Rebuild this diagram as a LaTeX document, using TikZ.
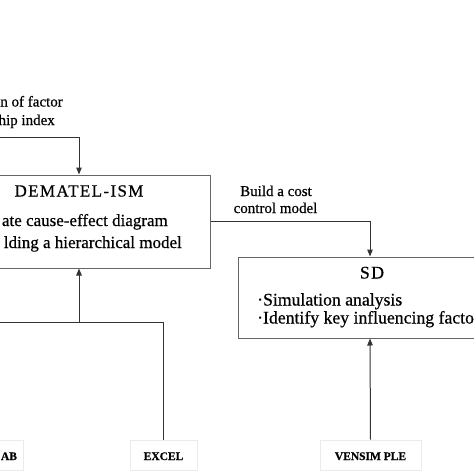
\documentclass[tikz,border=0pt]{standalone}
\usepackage{fontspec}
\setmainfont{Liberation Serif}[FakeBold=0.5]
\usetikzlibrary{arrows.meta}
\begin{document}
\begin{tikzpicture}[x=1pt,y=-1pt,
  wire/.style={draw=black!80,line width=1pt},
  arr/.style={wire,-{Triangle[length=7pt,width=5.5pt]}},
  bigbox/.style={draw=black!60,line width=1pt,fill=white,inner sep=0},
  toolbox/.style={draw=black!8,line width=0.8pt,minimum width=67pt,minimum height=30pt,inner sep=0},
  txt/.style={inner sep=0,font=\fontsize{17}{20}\selectfont},
  sdtxt/.style={inner sep=0,font=\fontsize{17.7}{20}\selectfont},
  lbl/.style={inner sep=0,font=\fontsize{15}{18}\selectfont},
  tool/.style={inner sep=0,font=\fontsize{11.5}{13}\selectfont\bfseries}]
\clip (0,0) rectangle (474,474);
\fill[white] (0,0) rectangle (474,474);
% boxes
\node[bigbox,minimum width=262pt,minimum height=93pt] (dem) at (79,221.5) {};
\node[bigbox,minimum width=264pt,minimum height=81pt] (sd) at (370,297.5) {};
\node[toolbox] (ab) at (-10,455) {};
\node[toolbox] (excel) at (163.5,455) {};
\node[toolbox,minimum width=101pt] (vensim) at (370.5,455) {};
% connectors
\coordinate (in1) at (-10,137);
\coordinate (j) at (79,322);
\draw[arr] (in1) -| (dem.north);
\draw[arr] (dem.east) -| (sd.north);
\draw[wire] (ab.north) |- (j);
\draw[arr] (excel.north) |- (j) -- (dem.south);
\draw[arr] (vensim.north) -- (sd.south);
% texts
\node[lbl,anchor=base east] (t1) at (63,106.5) {n of factor};
\node[lbl,anchor=base east] (t2) at (55,125) {hip index};
\node[txt,anchor=base] (t3) at (79,196.5) {\addfontfeatures{LetterSpace=8}DEMATEL-ISM};
\node[txt,anchor=base east] (t4) at (168,226) {ate cause-effect diagram};
\node[txt,anchor=base east] (t5) at (182,248) {lding a hierarchical model};
\node[lbl,anchor=base] (t6) at (276,196) {Build a cost};
\node[lbl,anchor=base] (t7) at (275.5,213) {control model};
\node[sdtxt,anchor=base] (t8) at (372,278.5) {\addfontfeatures{LetterSpace=8}SD};
\node[sdtxt,anchor=base west] (t9) at (257,305.5) {·Simulation analysis};
\node[sdtxt,anchor=base west] (t10) at (257,323.5) {·Identify key influencing facto};
\node[tool,anchor=base west] (t11) at (0.8,460) {AB};
\node[tool,anchor=base] (t12) at (163.5,460) {EXCEL};
\node[tool,anchor=base] (t13) at (370.5,460) {VENSIM PLE};
\end{tikzpicture}
\end{document}
